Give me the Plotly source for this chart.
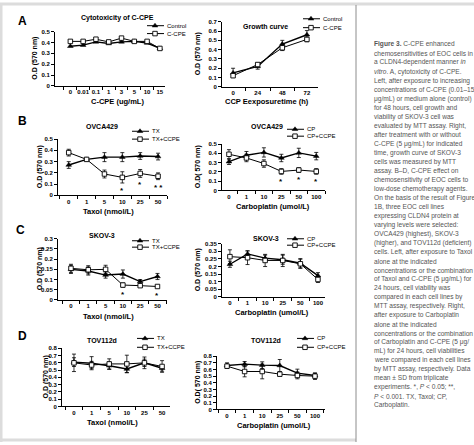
import plotly.graph_objects as go

W, H = 474, 445

# ---- data ----
a1_conc = ['0', '0.01', '0.1', '1', '3', '5', '10', '15']
a1_control = [0.365, 0.375, 0.405, 0.39, 0.405, 0.41, 0.395, 0.345]
a1_ccpe = [0.41, 0.41, 0.43, 0.405, 0.44, 0.41, 0.41, 0.345]

a2_time = ['0', '24', '48', '72']
a2_control = [0.15, 0.22, 0.46, 0.56]
a2_control_sd = [0.05, 0.03, 0.04, 0.045]
a2_ccpe = [0.12, 0.24, 0.42, 0.51]
a2_ccpe_sd = [0.015, 0.02, 0.03, 0.025]

taxol_doses = ['0', '1', '5', '10', '25', '50']
carbo_doses = ['0', '1', '10', '25', '50', '100']

b_tx = [0.27, 0.32, 0.34, 0.34, 0.35, 0.345]
b_tx_sd = [0.03, 0.01, 0.04, 0.04, 0.03, 0.03]
b_txc = [0.38, 0.32, 0.19, 0.16, 0.195, 0.17]
b_txc_sd = [0.03, 0.015, 0.035, 0.05, 0.035, 0.03]
b_cp = [0.31, 0.38, 0.41, 0.35, 0.405, 0.37]
b_cp_sd = [0.03, 0.04, 0.05, 0.04, 0.05, 0.04]
b_cpc = [0.39, 0.35, 0.29, 0.205, 0.22, 0.205]
b_cpc_sd = [0.05, 0.04, 0.04, 0.03, 0.025, 0.03]

c_tx = [0.15, 0.142, 0.122, 0.127, 0.09, 0.115]
c_tx_sd = [0.02, 0.02, 0.015, 0.02, 0.01, 0.015]
c_txc = [0.155, 0.148, 0.15, 0.073, 0.07, 0.066]
c_txc_sd = [0.02, 0.02, 0.02, 0.01, 0.006, 0.006]
c_cp = [0.215, 0.283, 0.255, 0.245, 0.222, 0.14]
c_cp_sd = [0.02, 0.02, 0.02, 0.03, 0.03, 0.02]
c_cpc = [0.265, 0.258, 0.24, 0.24, 0.218, 0.115]
c_cpc_sd = [0.045, 0.045, 0.04, 0.04, 0.03, 0.02]

d_tx = [0.61, 0.595, 0.56, 0.515, 0.60, 0.525]
d_tx_sd = [0.06, 0.09, 0.05, 0.05, 0.05, 0.04]
d_txc = [0.60, 0.57, 0.585, 0.585, 0.60, 0.55]
d_txc_sd = [0.12, 0.05, 0.07, 0.12, 0.08, 0.08]
d_cp = [0.66, 0.68, 0.665, 0.66, 0.545, 0.51]
d_cp_sd = [0.04, 0.04, 0.05, 0.09, 0.06, 0.03]
d_cpc = [0.65, 0.57, 0.57, 0.53, 0.51, 0.50]
d_cpc_sd = [0.03, 0.08, 0.11, 0.03, 0.05, 0.05]

# significance marks: (category index, text)
b_tx_stars = [(3, '*'), (4, '*'), (5, '* *')]
b_cp_stars = [(3, '*'), (4, '*'), (5, '*')]
c_tx_stars = [(3, '*'), (5, '*')]

caption = [
    "<b>Figure 3.</b> C-CPE enhanced",
    "chemosensitivities of EOC cells in",
    "a CLDN4-dependent manner <i>in</i>",
    "<i>vitro</i>. A, cytotoxicity of C-CPE.",
    "Left, after exposure to increasing",
    "concentrations of C-CPE (0.01–15",
    "μg/mL) or medium alone (control)",
    "for 48 hours, cell growth and",
    "viability of SKOV-3 cell was",
    "evaluated by MTT assay. Right,",
    "after treatment with or without",
    "C-CPE (5 μg/mL) for indicated",
    "time, growth curve of SKOV-3",
    "cells was measured by MTT",
    "assay. B–D, C-CPE effect on",
    "chemosensitivity of EOC cells to",
    "low-dose chemotherapy agents.",
    "On the basis of the result of Figure",
    "1B, three EOC cell lines",
    "expressing CLDN4 protein at",
    "varying levels were selected:",
    "OVCA429 (highest), SKOV-3",
    "(higher), and TOV112d (deficient)",
    "cells. Left, after exposure to Taxol",
    "alone at the indicated",
    "concentrations or the combination",
    "of Taxol and C-CPE (5 μg/mL) for",
    "24 hours, cell viability was",
    "compared in each cell lines by",
    "MTT assay, respectively. Right,",
    "after exposure to Carboplatin",
    "alone at the indicated",
    "concentrations or the combination",
    "of Carboplatin and C-CPE (5 μg/",
    "mL) for 24 hours, cell viabilities",
    "were compared in each cell lines",
    "by MTT assay, respectively. Data",
    "mean ± SD from triplicate",
    "experiments. *, <i>P</i> < 0.05; **,",
    "<i>P</i> < 0.001. TX, Taxol; CP,",
    "Carboplatin.",
]

FONT = "Liberation Sans, Arial, sans-serif"


def px(x):
    return x / W


def py(y):
    return 1 - y / H


def label(text, x, y, size, angle=0, xanchor='center', color='black'):
    return dict(text=text, x=px(x), y=py(y), xref='paper', yref='paper', xanchor=xanchor,
                yanchor='middle', textangle=angle, showarrow=False,
                font=dict(size=size, family=FONT, color=color))


# panel geometry in pixels: plot box, x range, y range/dtick, title, legend, axis titles
panels = [
    dict(box=(55, 29, 165, 84), xr=[-1.2, 7.4], yr=0.5, dt=0.1, cats=a1_conc,
         series=[(a1_control, None, 'f', 'Control'), (a1_ccpe, None, 'o', 'C-CPE')],
         title=("Cytotoxicity of C-CPE", 117, 15), leg=(147, 23, 8),
         xt=("C-CPE (ug/mL)", 117, 100), yt="O.D (570 nm)", ytx=35, stars=[]),
    dict(box=(222, 19, 318, 85), xr=[-0.45, 3.45], yr=0.7, dt=0.1, cats=a2_time,
         series=[(a2_control, a2_control_sd, 'f', 'Control'), (a2_ccpe, a2_ccpe_sd, 'o', 'C-CPE')],
         title=("Growth curve", 265, 24), leg=(303, 16, 9),
         xt=("CCP Eexposuretime (h)", 267, 100), yt="O.D (570 nm)", ytx=198, stars=[]),
    dict(box=(58, 138, 167, 195), xr=[-0.6, 5.5], yr=0.5, dt=0.1, cats=taxol_doses,
         series=[(b_tx, b_tx_sd, 'f', 'TX'), (b_txc, b_txc_sd, 'o', 'TX+CCPE')],
         title=("OVCA429", 102, 125), leg=(132, 130, 8),
         xt=("Taxol (nmol/L)", 108, 211), yt="O.D (570 nm)", ytx=40,
         stars=[(b_txc, b_txc_sd, b_tx_stars)]),
    dict(box=(222, 143, 325, 190), xr=[-0.4, 5.5], yr=0.5, dt=0.1, cats=carbo_doses,
         series=[(b_cp, b_cp_sd, 'f', 'CP'), (b_cpc, b_cpc_sd, 'o', 'CP+CCPE')],
         title=("OVCA429", 267, 125), leg=(287, 128, 7),
         xt=("Carboplatin (umol/L)", 273, 206), yt="O.D( 570 nm)", ytx=198,
         stars=[(b_cpc, b_cpc_sd, b_cp_stars)]),
    dict(box=(58, 239, 167, 301), xr=[-0.75, 5.55], yr=0.3, dt=0.05, cats=taxol_doses,
         series=[(c_tx, c_tx_sd, 'f', 'TX'), (c_txc, c_txc_sd, 'o', 'TX+CCPE')],
         title=("SKOV-3", 102, 236), leg=(132, 241, 6.5),
         xt=("Taxol (nmol/L)", 108, 318), yt="O.D (570 nm)", ytx=40,
         stars=[(c_txc, c_txc_sd, c_tx_stars)]),
    dict(box=(222, 244, 325, 298), xr=[-0.45, 5.4], yr=0.35, dt=0.05, cats=carbo_doses,
         series=[(c_cp, c_cp_sd, 'f', 'CP'), (c_cpc, c_cpc_sd, 'o', 'CP+CCPE')],
         title=("SKOV-3", 266, 239), leg=(287, 239, 6.5),
         xt=("Carboplatin (umol/L)", 272, 314), yt="O.D (570 nm)", ytx=198, stars=[]),
    dict(box=(62, 350, 170, 409), xr=[-0.68, 5.45], yr=0.8, dt=0.1, cats=taxol_doses,
         series=[(d_tx, d_tx_sd, 'f', 'TX'), (d_txc, d_txc_sd, 'o', 'TX+CCPE')],
         title=("TOV112d", 102, 342), leg=(137, 340, 9),
         xt=("Taxol (nmol/L)", 112, 425), yt="O.D (570 nm)", ytx=46, stars=[]),
    dict(box=(217, 358, 325, 412), xr=[-0.57, 5.57], yr=0.8, dt=0.1, cats=carbo_doses,
         series=[(d_cp, d_cp_sd, 'f', 'CP'), (d_cpc, d_cpc_sd, 'o', 'CP+CCPE')],
         title=("TOV112d", 266, 342), leg=(297, 340, 9),
         xt=("Carboplatin (umol/L)", 274, 428), yt="O.D( 570 nm)", ytx=198, stars=[]),
]

fig = go.Figure()
layout = {}
annotations = []
shapes = []


def marker_style(kind):
    if kind == 'f':
        return dict(symbol='triangle-up', size=5, color='black', line=dict(color='black', width=0.5))
    return dict(symbol='square', size=4.5, color='white', line=dict(color='black', width=0.9))


for i, p in enumerate(panels, start=1):
    xa = 'x' if i == 1 else 'x%d' % i
    ya = 'y' if i == 1 else 'y%d' % i
    x0, y0, x1, y1 = p['box']
    n = len(p['cats'])
    idx = list(range(n))
    for vals, sd, kind, name in p['series']:
        err = None
        if sd is not None:
            err = dict(type='data', array=sd, visible=True, color='black', thickness=0.8, width=2)
        fig.add_trace(go.Scatter(
            x=idx, y=vals, xaxis=xa, yaxis=ya, mode='lines+markers', name=name,
            line=dict(color='black', width=1.4 if kind == 'f' else 1),
            marker=marker_style(kind), error_y=err, cliponaxis=False,
        ))
    layout['xaxis' if i == 1 else 'xaxis%d' % i] = dict(
        domain=[px(x0), px(x1)], anchor=ya, range=p['xr'],
        tickvals=idx, ticktext=p['cats'], ticks='', showline=True, linecolor='black', linewidth=1,
        minor=dict(ticks='outside', ticklen=3, tick0=-0.5, dtick=1, tickcolor='black', showgrid=False),
        showgrid=False, zeroline=False, tickfont=dict(size=6, family=FONT, color='black', weight='bold'),
    )
    layout['yaxis' if i == 1 else 'yaxis%d' % i] = dict(
        domain=[py(y1), py(y0)], anchor=xa, range=[0, p['yr'] + 1e-9], dtick=p['dt'], tick0=0,
        ticks='outside', ticklen=3, tickcolor='black', showline=True, linecolor='black', linewidth=1,
        showgrid=False, zeroline=False, tickfont=dict(size=6, family=FONT, color='black', weight='bold'),
    )
    t, tx, ty = p['title']
    annotations.append(label("<b>%s</b>" % t, tx, ty, 7))
    t, tx, ty = p['xt']
    annotations.append(label("<b>%s</b>" % t, tx, ty, 7.5))
    annotations.append(label("<b>%s</b>" % p['yt'], p['ytx'], (y0 + y1) / 2, 7, angle=-90))
    # significance asterisks
    for vals, sd, marks in p['stars']:
        for k, s in marks:
            annotations.append(dict(text="<b>%s</b>" % s, x=k, y=vals[k] - sd[k], xref=xa, yref=ya,
                                    xanchor='center', yanchor='top', showarrow=False, yshift=-1,
                                    font=dict(size=8, family=FONT, color='black')))
    # legend drawn on overlay axis
    lx, ly, dy = p['leg']
    for j, (vals, sd, kind, name) in enumerate(p['series']):
        yy = ly + j * dy
        fig.add_trace(go.Scatter(
            x=[lx, lx + 8, lx + 17], y=[yy, yy, yy], xaxis='x9', yaxis='y9',
            mode='lines+markers', line=dict(color='black', width=1),
            marker=marker_style(kind),
            selectedpoints=[1], unselected=dict(marker=dict(opacity=0)), hoverinfo='skip',
        ))
        annotations.append(label(name, lx + 18, yy, 6, xanchor='left'))

# panel letters
for letter, lx, ly in [('A', 22, 18), ('B', 22, 120), ('C', 20, 230), ('D', 22, 338)]:
    annotations.append(label("<b>%s</b>" % letter, lx, ly, 12))

# caption column, one annotation per line
for k, line in enumerate(caption):
    annotations.append(label(line, 372, 42 + k * 9.15, 6.6, xanchor='left', color='#555555'))

# frame and divider
shapes.append(dict(type='line', xref='paper', yref='paper', x0=0, x1=1, y0=py(1), y1=py(1),
                   line=dict(color='#dcdcdc', width=3)))
shapes.append(dict(type='line', xref='paper', yref='paper', x0=px(1), x1=px(1), y0=0, y1=1,
                   line=dict(color='#dcdcdc', width=3)))
shapes.append(dict(type='line', xref='paper', yref='paper', x0=0, x1=px(356), y0=py(443), y1=py(443),
                   line=dict(color='#dcdcdc', width=3)))
shapes.append(dict(type='line', xref='paper', yref='paper', x0=px(356), x1=px(356), y0=0, y1=py(2),
                   line=dict(color='#8c8c8c', width=1)))

layout['xaxis9'] = dict(domain=[0, 1], range=[0, W], visible=False, anchor='y9', fixedrange=True)
layout['yaxis9'] = dict(domain=[0, 1], range=[H, 0], visible=False, anchor='x9', fixedrange=True)

fig.update_layout(
    width=W, height=H, margin=dict(l=0, r=0, t=0, b=0),
    paper_bgcolor='white', plot_bgcolor='rgba(0,0,0,0)', showlegend=False,
    annotations=annotations, shapes=shapes, **layout,
)
fig.write_html("out.html", config=dict(displayModeBar=False),
               post_script="document.body.style.margin='0';document.body.style.overflow='hidden';")
